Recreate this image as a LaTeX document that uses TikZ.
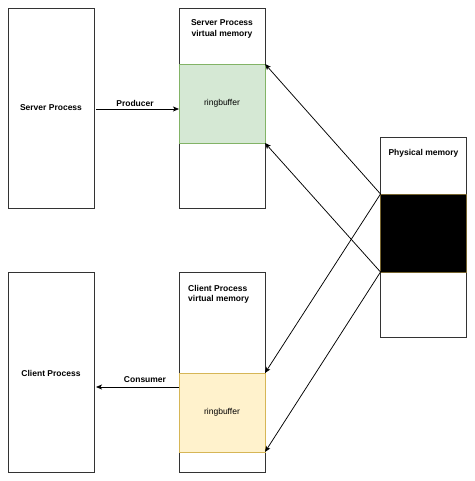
\documentclass[tikz,border=0pt]{standalone}
\usepackage{fontspec}
\setmainfont{Liberation Sans}
\usetikzlibrary{arrows.meta}
\definecolor{boxline}{HTML}{333333}
\definecolor{gfill}{HTML}{D5E8D4}
\definecolor{gline}{HTML}{82B366}
\definecolor{yfill}{HTML}{FFF2CC}
\definecolor{yline}{HTML}{D6B656}
\tikzset{
  memcol/.style={draw=boxline, line width=0.9pt, fill=white, minimum width=86pt, minimum height=200pt, inner sep=0pt, outer sep=0pt},
  region/.style={line width=0.9pt, minimum width=86pt, minimum height=79pt, inner sep=0pt, outer sep=0pt, font=\fontsize{8.5}{10.5}\selectfont},
  lbl/.style={font=\fontsize{8.5}{10.5}\selectfont\bfseries, inner sep=0pt, align=center},
  conn/.style={draw=black, line width=0.75pt, -{Stealth[length=6pt,width=5pt,inset=1.5pt]}}
}
\begin{document}
\begin{tikzpicture}[x=1pt,y=-1pt]
\useasboundingbox (0,0) rectangle (474,481);
% server side
\node[memcol] (srv) at (51,108) {};
\node[lbl] (srvtxt) at (51,108) {Server Process};
\node[memcol] (svm) at (222,108) {};
\node[region, fill=gfill, draw=gline] (grb) at (222,103.5) {ringbuffer};
\node[lbl] (svmtxt) at (222,29) {Server Process\\virtual memory};
% client side
\node[memcol] (cli) at (51,372) {};
\node[lbl] (clitxt) at (51,373) {Client Process};
\node[memcol] (cvm) at (222,372) {};
\node[region, fill=yfill, draw=yline] (yrb) at (222,412.5) {ringbuffer};
\node[lbl, align=left, anchor=west] (cvmtxt) at (188,294.5) {Client Process\\virtual memory};
% physical memory
\node[memcol] (pm) at (423.5,237) {};
\node[region, fill=black, draw=yline!55!black, line width=0.7pt, minimum width=86pt, minimum height=78pt] (blk) at (423.5,233) {};
\node[lbl] (pmtxt) at (423.5,153) {Physical memory};
% producer / consumer
\coordinate (pstart) at (96,109);
\draw[conn] (pstart) -- (grb.west |- pstart);
\node[lbl] (prod) at (135,103) {Producer};
\coordinate (cend) at (96,387);
\draw[conn] (yrb.west |- cend) -- (cend);
\node[lbl] (cons) at (145,380) {Consumer};
% mappings
\draw[conn] (blk.north west) -- (grb.north east);
\draw[conn] (blk.south west) -- (grb.south east);
\draw[conn] (blk.north west) -- (yrb.north east);
\draw[conn] (blk.south west) -- (yrb.south east);
\end{tikzpicture}
\end{document}
